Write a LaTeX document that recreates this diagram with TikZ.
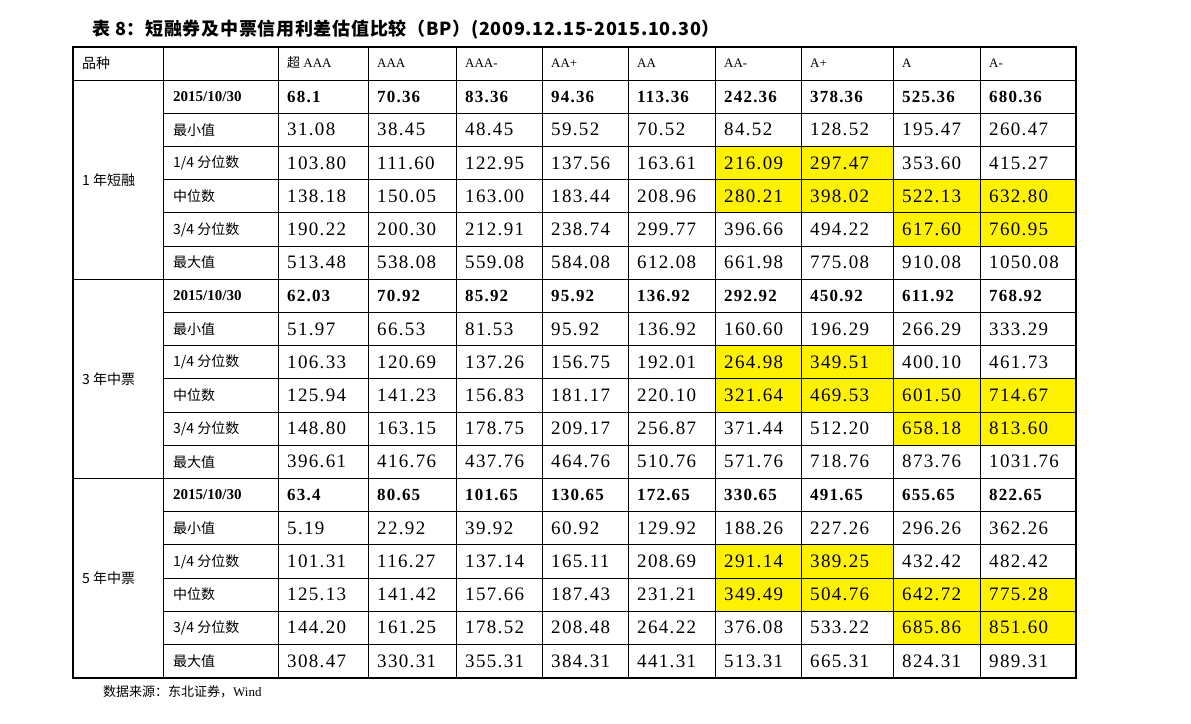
\documentclass[tikz,border=0pt]{standalone}
\usepackage{fontspec}
\setmainfont{Liberation Serif}
\newfontfamily\numf[LetterSpace=7]{Liberation Serif}
\newfontfamily\cjk{Noto Sans CJK SC}
\newfontfamily\cjkt[LetterSpace=4]{Noto Sans CJK SC}
\begin{document}
\begin{tikzpicture}[x=1pt,y=-1pt,
  val/.style={anchor=west,inner sep=0pt,font=\numf\fontsize{19}{19}\selectfont},
  bval/.style={val,font=\numf\fontsize{17}{17}\selectfont\bfseries},
  hdr/.style={anchor=west,inner sep=0pt,font=\fontsize{13}{13}\selectfont},
  lab/.style={anchor=west,inner sep=0pt,font=\cjk\fontsize{14}{14}\selectfont}]
\useasboundingbox (0,0) rectangle (1191,723);
\def\colx{{73,163,278,368,456,542,628,715,801,893,980,1076}}
% highlights
\foreach \g in {0,1,2}{
  \foreach \r/\c in {2/5,2/6,3/5,3/6,3/7,3/8,4/7,4/8}{
    \pgfmathsetmacro\xa{\colx[\c+2]}\pgfmathsetmacro\xb{\colx[\c+3]}
    \pgfmathsetmacro\ya{80+33.2*(\g*6+\r)}\pgfmathsetmacro\yb{\ya+33.2}
    \fill[yellow] (\xa,\ya) rectangle (\xb,\yb);
  }}
% grid
\foreach \i in {0,...,11}{\pgfmathsetmacro\x{\colx[\i]}\draw[line width=1pt] (\x,47) -- (\x,678);}
\draw[line width=1.6pt] (73,47) rectangle (1076,678);
\draw[line width=1pt] (73,80) -- (1076,80);
\foreach \k in {1,...,17}{\pgfmathsetmacro\y{80+33.2*\k}
  \ifnum\k=6 \draw[line width=1.3pt] (73,\y) -- (1076,\y);
  \else\ifnum\k=12 \draw[line width=1.3pt] (73,\y) -- (1076,\y);
  \else \draw[line width=1pt] (163,\y) -- (1076,\y);\fi\fi}
% title
\node[anchor=west,inner sep=0pt,font=\cjkt\bfseries\fontsize{18}{18}\selectfont] (title) at (92,30) {表 8：短融券及中票信用利差估值比较（BP）(2009.12.15-2015.10.30）};
% header
\node[lab] (h0) at (82,63) {品种};
\foreach \t [count=\i from 2] in {{\cjk 超}~AAA,AAA,AAA-,AA+,AA,AA-,A+,A,A-}{
  \pgfmathsetmacro\x{\colx[\i]+9}
  \node[hdr] (h\i) at (\x,63) {\t};}
% group labels
\node[lab] (g0) at (82,180) {1 年短融};
\node[lab] (g1) at (82,379) {3 年中票};
\node[lab] (g2) at (82,578) {5 年中票};
% row labels
\foreach \g in {0,1,2}{
  \foreach \t [count=\r from 0] in {2015/10/30,{\cjk 最小值},1/4 {\cjk 分位数},{\cjk 中位数},3/4 {\cjk 分位数},{\cjk 最大值}}{
    \pgfmathsetmacro\y{80+33.2*(\g*6+\r)+16.6}
    \ifnum\r=0 \node[hdr,font=\bfseries\fontsize{15}{15}\selectfont] (rl\g\r) at (173,\y) {\t};
    \else \node[lab] (rl\g\r) at (173,\y) {\t};\fi}}
% values
\def\putrow#1#2#3{%
  \foreach \v [count=\c from 2] in {#3}{
    \pgfmathsetmacro\x{\colx[\c]+9}\pgfmathsetmacro\y{80+33.2*#1+16.6}
    \ifnum#2=1 \node[bval] at (\x,\y) {\v};\else\node[val] at (\x,\y) {\v};\fi}}
\putrow{0}{1}{68.1,70.36,83.36,94.36,113.36,242.36,378.36,525.36,680.36}
\putrow{1}{0}{31.08,38.45,48.45,59.52,70.52,84.52,128.52,195.47,260.47}
\putrow{2}{0}{103.80,111.60,122.95,137.56,163.61,216.09,297.47,353.60,415.27}
\putrow{3}{0}{138.18,150.05,163.00,183.44,208.96,280.21,398.02,522.13,632.80}
\putrow{4}{0}{190.22,200.30,212.91,238.74,299.77,396.66,494.22,617.60,760.95}
\putrow{5}{0}{513.48,538.08,559.08,584.08,612.08,661.98,775.08,910.08,1050.08}
\putrow{6}{1}{62.03,70.92,85.92,95.92,136.92,292.92,450.92,611.92,768.92}
\putrow{7}{0}{51.97,66.53,81.53,95.92,136.92,160.60,196.29,266.29,333.29}
\putrow{8}{0}{106.33,120.69,137.26,156.75,192.01,264.98,349.51,400.10,461.73}
\putrow{9}{0}{125.94,141.23,156.83,181.17,220.10,321.64,469.53,601.50,714.67}
\putrow{10}{0}{148.80,163.15,178.75,209.17,256.87,371.44,512.20,658.18,813.60}
\putrow{11}{0}{396.61,416.76,437.76,464.76,510.76,571.76,718.76,873.76,1031.76}
\putrow{12}{1}{63.4,80.65,101.65,130.65,172.65,330.65,491.65,655.65,822.65}
\putrow{13}{0}{5.19,22.92,39.92,60.92,129.92,188.26,227.26,296.26,362.26}
\putrow{14}{0}{101.31,116.27,137.14,165.11,208.69,291.14,389.25,432.42,482.42}
\putrow{15}{0}{125.13,141.42,157.66,187.43,231.21,349.49,504.76,642.72,775.28}
\putrow{16}{0}{144.20,161.25,178.52,208.48,264.22,376.08,533.22,685.86,851.60}
\putrow{17}{0}{308.47,330.31,355.31,384.31,441.31,513.31,665.31,824.31,989.31}
% footer
\node[lab,font=\cjk\fontsize{13}{13}\selectfont] (src) at (103,692) {数据来源：东北证券，\rmfamily Wind};
\end{tikzpicture}
\end{document}
